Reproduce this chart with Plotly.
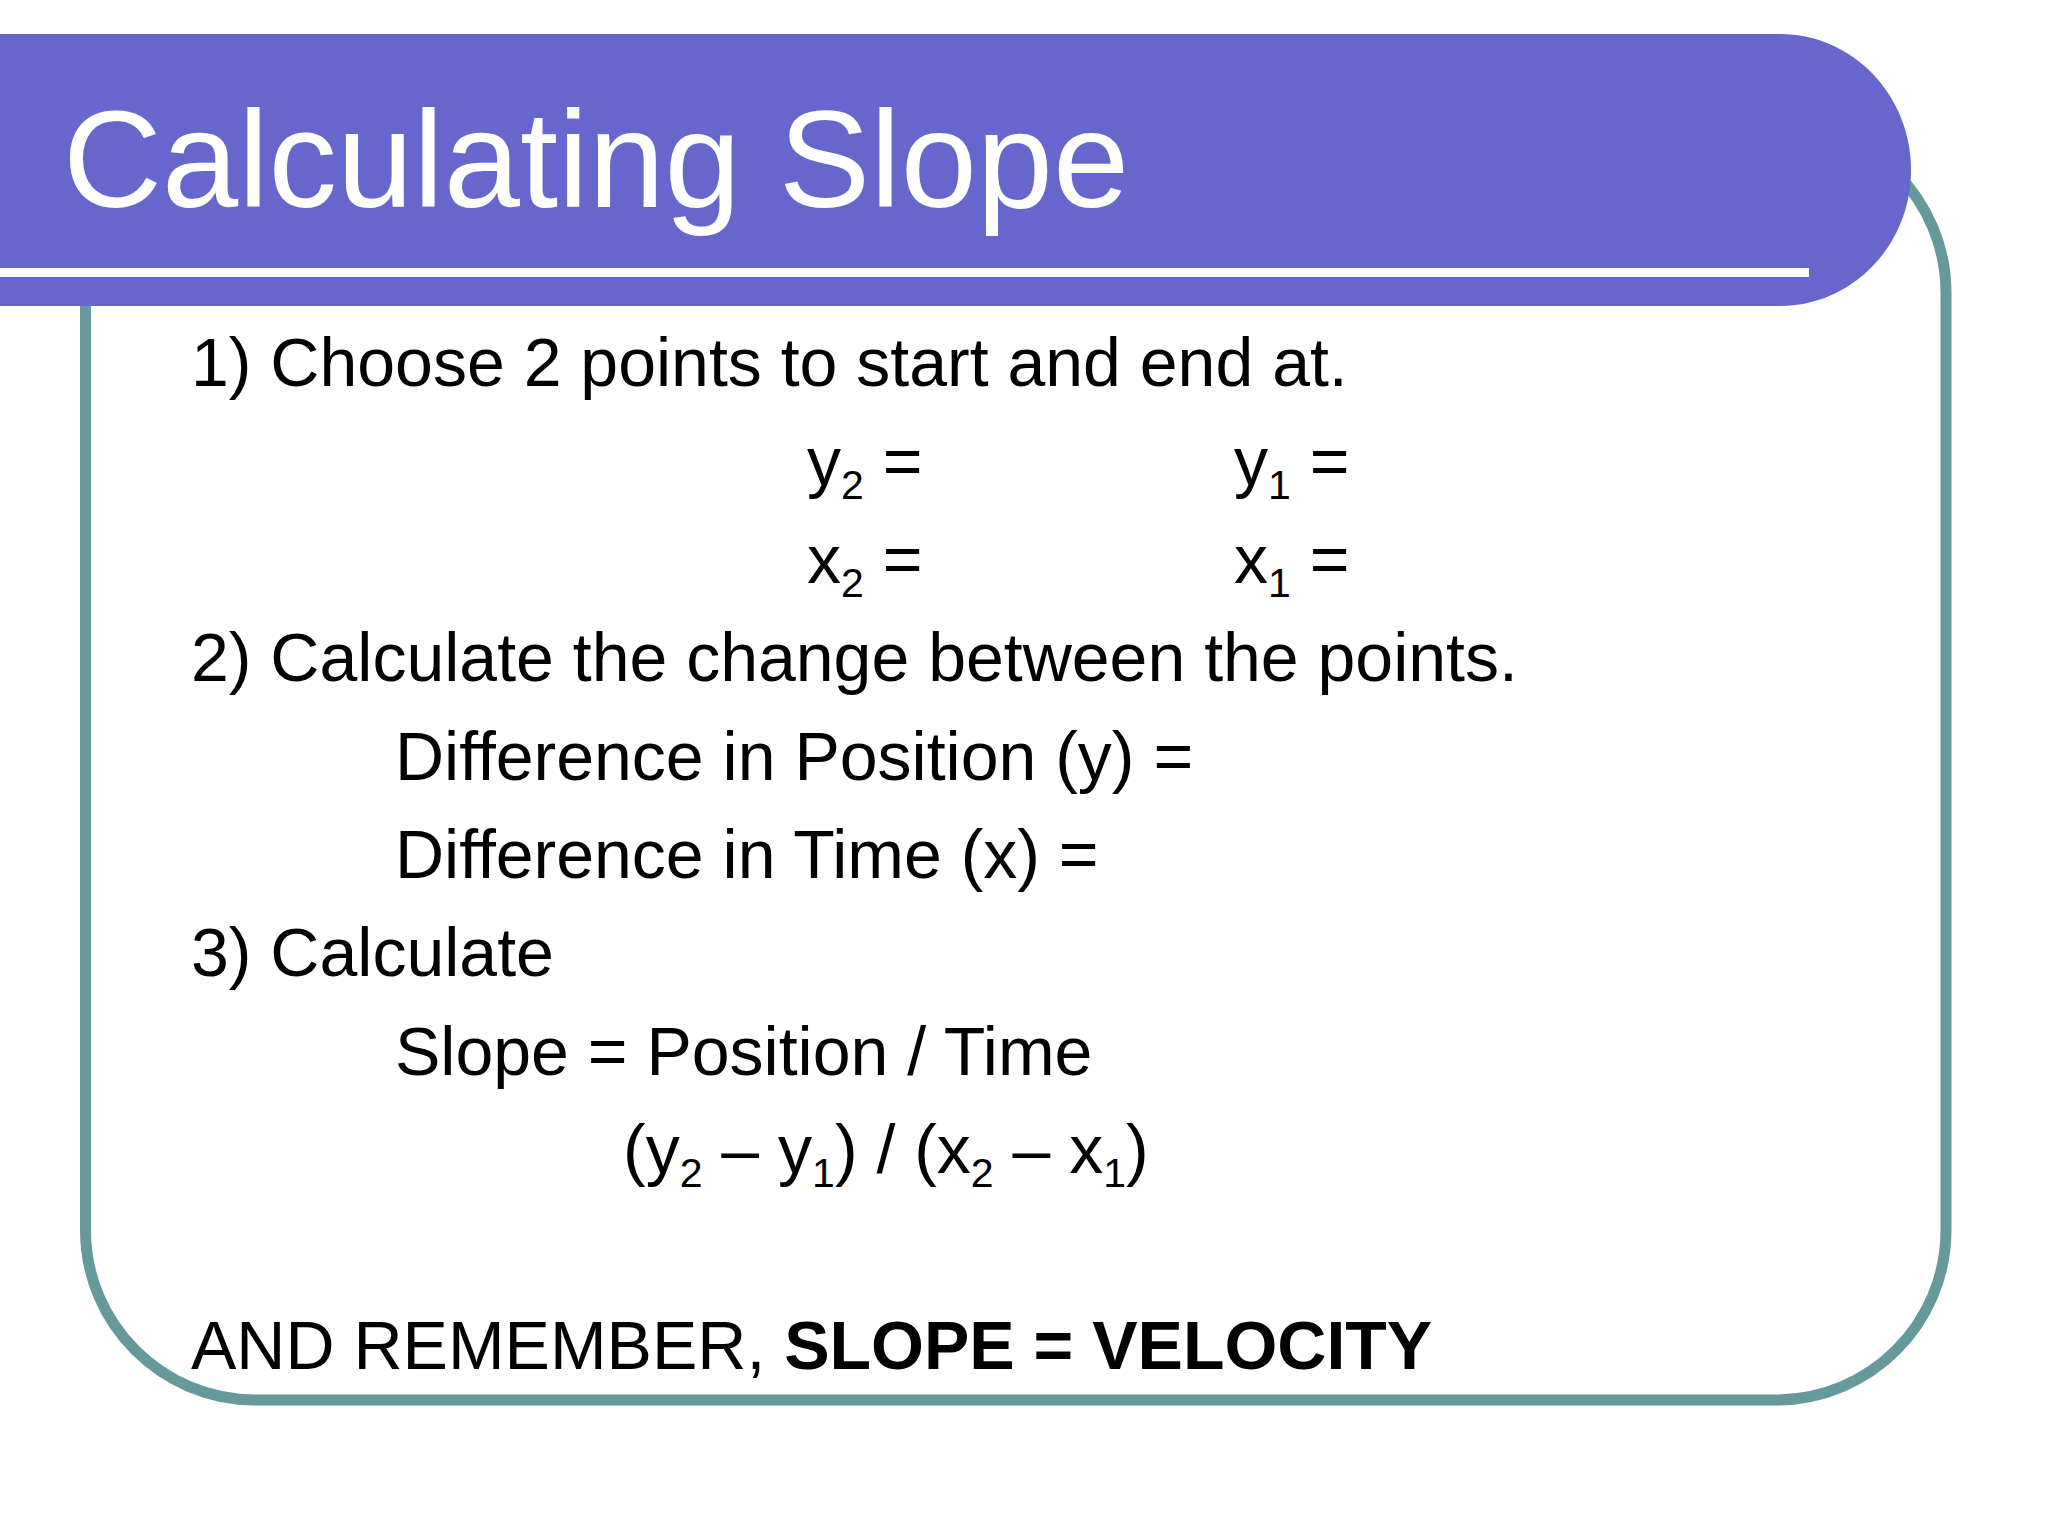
import plotly.graph_objects as go

# slide content
title = "Calculating Slope"
sub = '<sub><span style="font-size:41px">{}</span></sub>'
lines = [
    "1) Choose 2 points to start and end at.",
    "y" + sub.format(2) + " =",
    "y" + sub.format(1) + " =",
    "x" + sub.format(2) + " =",
    "x" + sub.format(1) + " =",
    "2) Calculate the change between the points.",
    "Difference in Position (y) =",
    "Difference in Time (x) =",
    "3) Calculate",
    "Slope = Position / Time",
    "(y" + sub.format(2) + " \u2013 y" + sub.format(1) + ") / (x"
    + sub.format(2) + " \u2013 x" + sub.format(1) + ")",
    "AND REMEMBER, <b>SLOPE = VELOCITY</b>",
]
line_rows = [0, 1, 1, 2, 2, 3, 4, 5, 6, 7, 8, 10]
line_cols = ["main", "left", "right", "left", "right", "main",
             "indent", "indent", "main", "indent", "formula", "main"]

# layout in pixels
W, H = 2048, 1536
col_x = {"main": 190, "indent": 394, "left": 806, "right": 1233, "formula": 622}
first_baseline = 385
row_step = 98.3
body_size = 68
title_size = 137
purple = "#6666CC"
teal = "#669999"
font = "Liberation Sans, Arial, sans-serif"

fig = go.Figure()

# teal rounded frame (top part hidden under the banner)
l, r, t, b, rad = 85.5, 1946, 123, 1400, 170
k = 0.5523 * rad
frame = (f"M {l + rad},{t} L {r - rad},{t} "
         f"C {r - rad + k},{t} {r},{t + rad - k} {r},{t + rad} "
         f"L {r},{b - rad} "
         f"C {r},{b - rad + k} {r - rad + k},{b} {r - rad},{b} "
         f"L {l + rad},{b} "
         f"C {l + rad - k},{b} {l},{b - rad + k} {l},{b - rad} "
         f"L {l},{t + rad} "
         f"C {l},{t + rad - k} {l + rad - k},{t} {l + rad},{t} Z")
fig.add_shape(type="path", path=frame, line=dict(color=teal, width=11),
              fillcolor="rgba(0,0,0,0)", layer="below")

# purple title banner with round right end
bt, bb, bx, brx = 34, 306, 1780, 131
bm = (bt + bb) / 2
kx, ky = 0.5523 * brx, 0.5523 * (bb - bt) / 2
banner = (f"M 0,{bt} L {bx},{bt} "
          f"C {bx + kx},{bt} {bx + brx},{bm - ky} {bx + brx},{bm} "
          f"C {bx + brx},{bm + ky} {bx + kx},{bb} {bx},{bb} "
          f"L 0,{bb} Z")
fig.add_shape(type="path", path=banner, fillcolor=purple, line=dict(width=0))
fig.add_shape(type="rect", x0=0, x1=1809, y0=268, y1=277,
              fillcolor="white", line=dict(width=0))

# title
fig.add_annotation(x=62, y=206 - 0.905 * title_size, text=title,
                   xanchor="left", yanchor="top", showarrow=False,
                   borderpad=0,
                   font=dict(family=font, size=title_size, color="white"))

# body text
for txt, row, col in zip(lines, line_rows, line_cols):
    baseline = first_baseline + row * row_step
    fig.add_annotation(x=col_x[col], y=baseline - 0.905 * body_size, text=txt,
                       xanchor="left", yanchor="top", showarrow=False,
                       borderpad=0,
                       font=dict(family=font, size=body_size, color="black"))

fig.update_xaxes(range=[0, W], visible=False, fixedrange=True)
fig.update_yaxes(range=[H, 0], visible=False, fixedrange=True)
fig.update_layout(width=W, height=H, margin=dict(l=0, r=0, t=0, b=0),
                  plot_bgcolor="white", paper_bgcolor="white",
                  showlegend=False)

fig.write_html("out.html", config={"displayModeBar": False},
               post_script="document.body.style.margin='0';")
